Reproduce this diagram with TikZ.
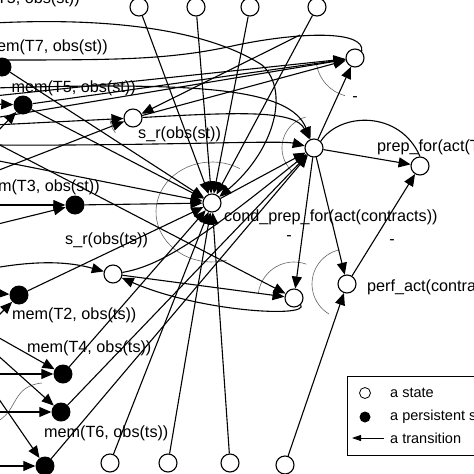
\documentclass[tikz,border=0pt]{standalone}
\usepackage{fontspec}
\setmainfont{Liberation Sans}
\usetikzlibrary{arrows.meta}
\begin{document}
\begin{tikzpicture}[x=1pt,y=-1pt,
  st/.style={circle,draw,line width=1.1pt,fill=white,minimum size=18pt,inner sep=0pt},
  ps/.style={circle,fill=black,minimum size=19pt,inner sep=0pt},
  tr/.style={line width=1.1pt,-{Triangle[length=12pt,width=10pt]}},
  ln/.style={line width=1.1pt},
  ng/.style={line width=0.6pt,black!60},
  lb/.style={font=\fontsize{16.2}{19}\selectfont,inner sep=0pt},
  lg/.style={font=\fontsize{14.5}{17}\selectfont,inner sep=0pt,anchor=west},
]
\useasboundingbox (0,0) rectangle (474,474);
\fill[white] (0,0) rectangle (474,474);
\clip (0,0) rectangle (474,474);

% nodes
\node[st] (t1) at (139,7) {};
\node[st] (t2) at (196,7) {};
\node[st] (t3) at (250,7) {};
\node[st] (t4) at (317,7) {};
\node[st] (A) at (355,58) {};
\node[st] (sst) at (133,118) {};
\node[st] (B) at (314,148) {};
\node[st] (P) at (420,166) {};
\node[st] (C) at (212,203) {};
\node[st] (sts) at (113,274) {};
\node[st] (N) at (294,298) {};
\node[st] (F) at (347,284) {};
\node[st] (b1) at (110,463) {};
\node[st] (b2) at (168,463) {};
\node[st] (b3) at (230,463) {};
\node[st] (b4) at (285,465) {};
\node[ps] (m7) at (2,67) {};
\node[ps] (m5) at (23,105) {};
\node[ps] (m3) at (75,205) {};
\node[ps] (m2) at (19,295) {};
\node[ps] (m4) at (63,374) {};
\node[ps] (mu) at (61,412) {};
\node[ps] (m6) at (45,466) {};

% free ends at the left border
\foreach \n/\y in {l1/88,l2/96,l3/104,l4/118,l5/125,l6/135,l7/142,l8/160,l9/172,l10/205,l11/225,l12/268,l13/293,l14/320,l15/335,l16/352,l17/374,l18/392,l19/412,l20/466,l21/145,l22/23}
  \coordinate (\n) at (-6,\y);
\coordinate (ur) at (300,35);

% labels
\node[lb,anchor=east] (lt) at (80,-1) {mem(T5, obs(st))};
\node[lb,anchor=east] (l7t) at (108,47) {mem(T7, obs(st))};
\node[lb,anchor=east] (l5t) at (136,88) {mem(T5, obs(st))};
\node[lb,anchor=west] (lsst) at (138,134) {s\_r(obs(st))};
\node[lb,anchor=west] (lP) at (377,147) {prep\_for(act(T1))};
\node[lb,anchor=east] (l3t) at (100,187) {mem(T3, obs(st))};
\node[lb,anchor=west] (lC) at (224,217) {cond\_prep\_for(act(contracts))};
\node[lb,anchor=west] (lsts) at (65,240) {s\_r(obs(ts))};
\node[lb,anchor=west] (l2t) at (12,315) {mem(T2, obs(ts))};
\node[lb,anchor=west] (lF) at (367,287) {perf\_act(contracts)};
\node[lb,anchor=west] (l4t) at (27,348) {mem(T4, obs(ts))};
\node[lb,anchor=west] (l6t) at (44,433) {mem(T6, obs(ts))};
\node[lb] (d1) at (289,238) {-};
\node[lb] (d2) at (392,242) {-};
\node[lb] (d3) at (355,99) {-};

% negation arcs
\draw[ng] (A) ++(170:39) arc[start angle=170,end angle=105,radius=39];
\draw[ng] (212,212) ++(300:56 and 50) arc[start angle=300,end angle=75,x radius=56,y radius=50];
\draw[ng] (B) ++(255:32) arc[start angle=255,end angle=135,radius=32];
\draw[ng] (N) ++(188:36) arc[start angle=188,end angle=290,radius=36];
\draw[ng] (F) ++(257:35) arc[start angle=257,end angle=121,radius=35];
\draw[ng] (sst) ++(175:23) arc[start angle=175,end angle=140,radius=23];
\draw[ng] (-2,421) .. controls (18,410) and (12,386) .. (42,383);

% transitions into C
\foreach \s in {t1,t2,t3,t4,m7,m5,m3,l8,m2,m4,b1,b2,b3}
  \draw[tr] (\s) -- (C);
\draw[tr] (l22) .. controls (90,18) and (200,25) .. (262,65)
  .. controls (290,90) and (275,150) .. (C);
\draw[tr] (C) -- (B);

% into persistent states from the left
\draw[tr] (l3) -- (m5);  \draw[tr] (l6) -- (m5);
\draw[tr] (l10) -- (m3); \draw[tr] (l11) -- (m3);
\draw[tr] (l13) -- (m2); \draw[tr] (l14) -- (m2);
\draw[tr] (l17) -- (m4); \draw[tr] (l15) -- (m4);
\draw[tr] (l19) -- (mu); \draw[tr] (l16) -- (mu);
\draw[tr] (l20) -- (m6); \draw[tr] (l18) -- (m6);

% into B
\draw[tr] (mu) -- (B);
\draw[tr] (m6) -- (B);
\draw[tr] (sts) .. controls (160,266) and (200,240) .. (B);
\draw[tr] (sst) .. controls (240,112) and (295,110) .. (B);
\draw[tr] (l1) .. controls (200,82) and (290,88) .. (B);
\draw[tr] (l21) .. controls (150,146) and (280,140) .. (B);

% around s_r(obs(ts))
\draw[tr] (sts) -- (N);
\draw[tr] (N.south east) .. controls (310,318) and (200,312) .. (sts);
\draw[tr] (l12) .. controls (40,260) and (70,262) .. (sts);
\draw[tr] (l7) -- (N);

% from B
\draw[tr] (B) -- (N);
\draw[tr] (B) -- (F);
\draw[tr] (B) -- (A);
\draw[tr] (B) -- (P);
\draw[ln] (B.north east) .. controls (340,112) and (400,110) .. (P.north);
\draw[tr] (F) -- (P);
\draw[tr] (b4) -- (F);

% around s_r(obs(st)) and A
\draw[tr] (sst) -- (A);
\draw[tr] (l5) -- (sst);
\draw[tr] (l9) -- (sst);
\draw[tr] (ur) -- (sst);
\draw[tr] (l4) -- (A);
\draw[tr] (l2) -- (A);
\draw[tr] (m5) -- (A);
\draw[ln] (A.north east) .. controls (365,30) and (300,32) .. (237,45)
  .. controls (170,60) and (120,60) .. (-6,60);

% legend
\draw[line width=0.8pt] (347,376) rectangle (480,455);
\node[circle,draw,line width=0.8pt,minimum size=11pt,inner sep=0pt] (ls) at (365,393) {};
\node[circle,fill=black,minimum size=11pt,inner sep=0pt] (lpn) at (365,417) {};
\coordinate (la1) at (384,438);
\coordinate (la2) at (352,438);
\draw[line width=0.8pt,-{Triangle[length=9pt,width=6pt]}] (la1) -- (la2);
\node[lg] (lgs) at (390,393) {a state};
\node[lg] (lgp) at (390,417) {a persistent state};
\node[lg] (lgt) at (390,438) {a transition};
\end{tikzpicture}
\end{document}
